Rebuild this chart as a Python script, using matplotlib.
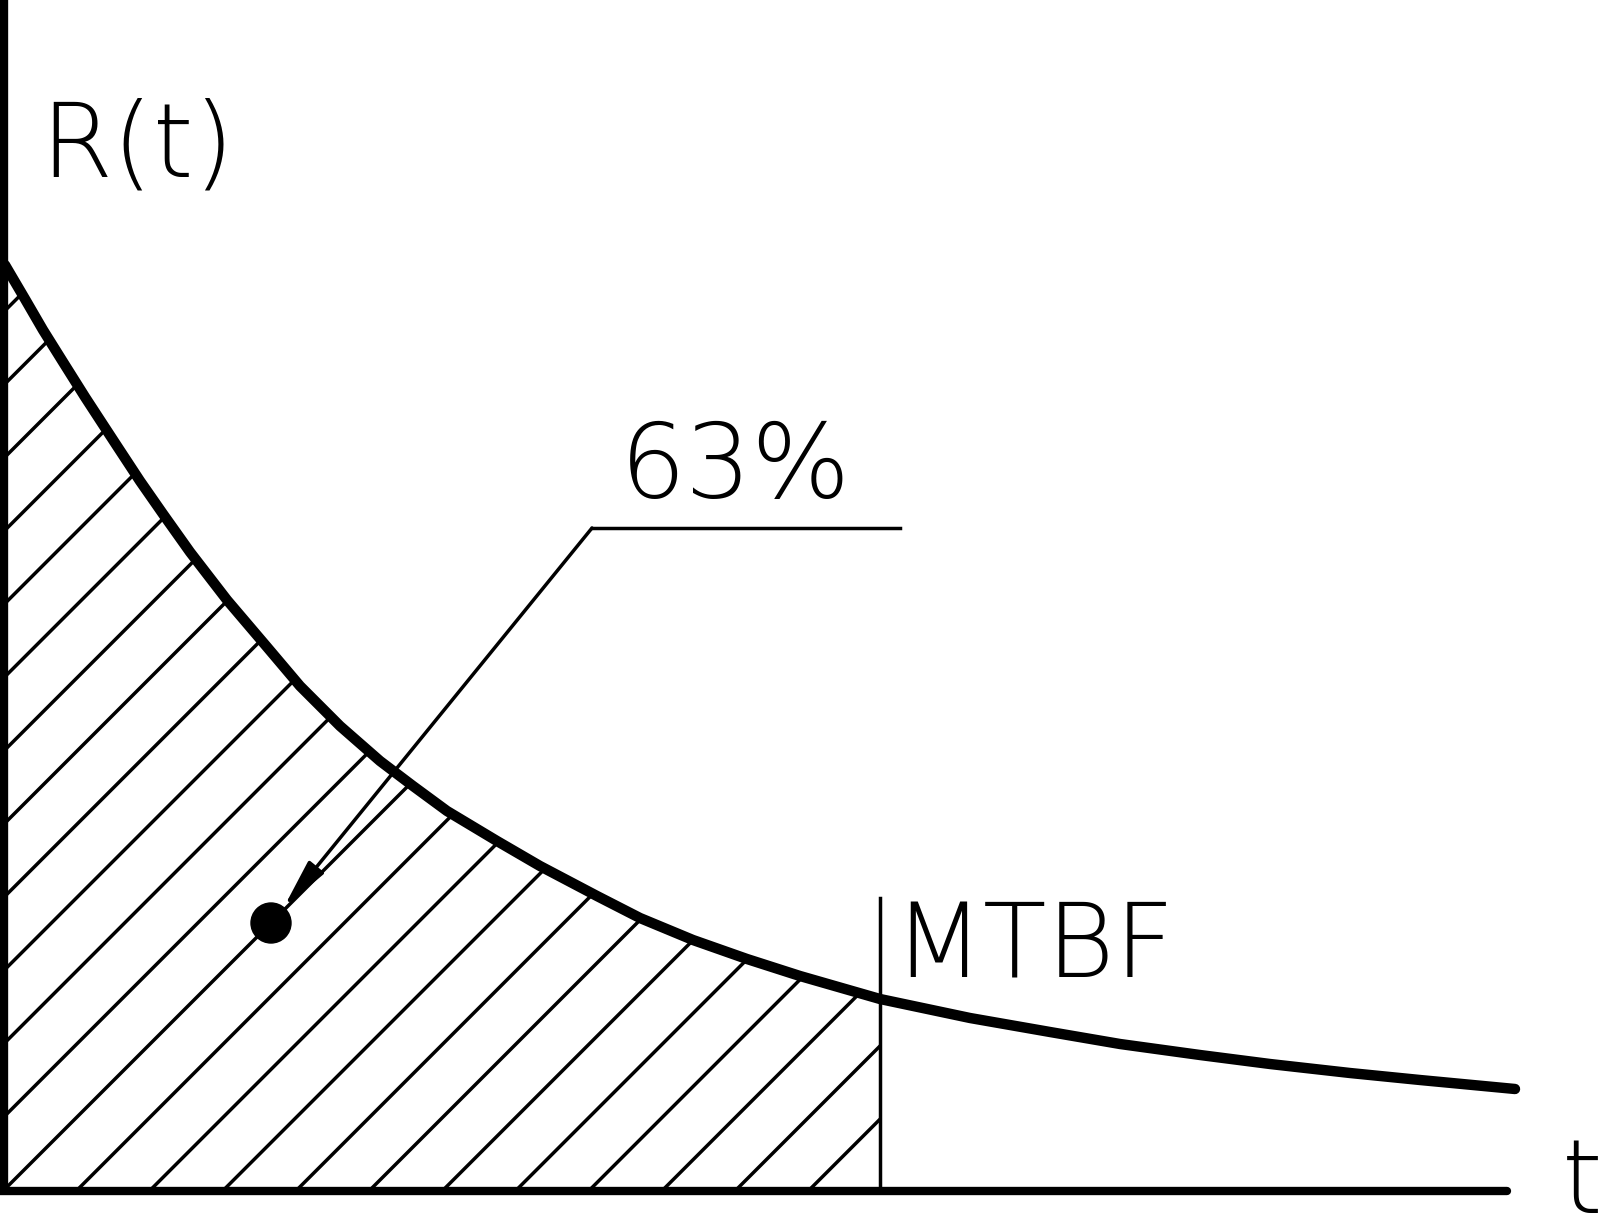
import numpy as np
import matplotlib.pyplot as plt
from matplotlib.patches import Polygon, Circle

# drawing coordinates (pixels, y pointing down)
curve_x = [5, 25, 43, 63, 85, 100, 117, 140, 163, 190, 227, 267, 300, 340, 380,
           413, 447, 497, 540, 597, 640, 693, 747, 800, 880, 970, 1050, 1120,
           1200, 1270, 1350, 1420, 1515]
curve_y = [265, 299, 330, 362, 397, 420, 446, 481, 514, 552, 600, 647, 686, 726, 761,
           786, 811, 841, 866, 896, 918, 940, 959, 976, 999, 1018, 1032, 1044,
           1055, 1064, 1073, 1080, 1089]

axis_y = 1191      # t axis
axis_x = 3.5       # R(t) axis
axis_end = 1507
mtbf_x = 880
mtbf_top = 898

dot = (271, 923)
arrow_tip = (284, 907)
leader_knee = (592, 528)
leader_end = 900

labels = {'R(t)': (40, 177), 'MTBF': (893, 978), '63%': (620, 498), 't': (1562, 1213)}

fig = plt.figure(figsize=(16, 12.15), dpi=100)
ax = fig.add_axes([0, 0, 1, 1])
ax.set_xlim(0, 1600)
ax.set_ylim(1215, 0)
ax.axis('off')

# axes
ax.plot([axis_x, axis_x], [0, axis_y], color='k', lw=6, solid_capstyle='butt')
ax.plot([0, axis_end], [axis_y, axis_y], color='k', lw=6, solid_capstyle='round')

# hatched region under curve up to MTBF
cx = np.array(curve_x, dtype=float)
cy = np.array(curve_y, dtype=float)
keep = cx <= mtbf_x
poly = list(zip(cx[keep], cy[keep])) + [(mtbf_x, axis_y), (axis_x, axis_y)]
clip = Polygon(poly, closed=True, fill=False, edgecolor='none')
ax.add_patch(clip)
for b in np.arange(3 - 73.2 * 20, mtbf_x + 10, 73.2):
    ln, = ax.plot([b, b + 1300], [axis_y, axis_y - 1300], color='k', lw=2.5)
    ln.set_clip_path(clip)

# MTBF line
ax.plot([mtbf_x, mtbf_x], [mtbf_top, axis_y], color='k', lw=2.5)

# curve
ax.plot(curve_x, curve_y, color='k', lw=7.5, solid_capstyle='round', solid_joinstyle='round')

# leader with arrow and dot
ax.plot([leader_knee[0], leader_end], [leader_knee[1], leader_knee[1]], color='k', lw=2.5)
ax.annotate('', xy=arrow_tip, xytext=leader_knee,
            arrowprops=dict(arrowstyle='-|>,head_length=3.0,head_width=0.6',
                            mutation_scale=10, color='k', lw=2.5,
                            shrinkA=0, shrinkB=0))
ax.add_patch(Circle(dot, 20, color='k'))

for s, (x, y) in labels.items():
    ax.text(x, y, s, fontsize=75, ha='left', va='baseline', family='DejaVu Sans',
            fontweight='light')

fig.savefig('out.png', dpi=100)
